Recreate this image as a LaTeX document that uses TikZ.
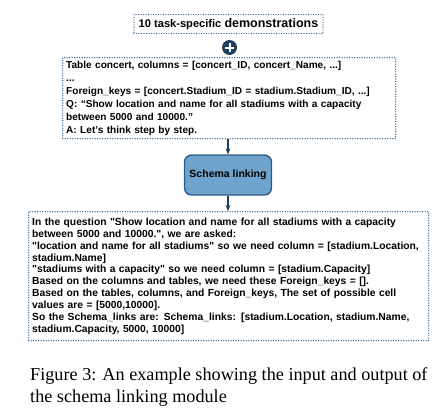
\documentclass[tikz,border=0pt]{standalone}
\usepackage{fontspec}
\setmainfont{Liberation Serif}
\newfontfamily\boxfont{Liberation Sans}
\usetikzlibrary{arrows.meta}
\definecolor{dotblue}{HTML}{2E5E8E}
\definecolor{navy}{HTML}{1F3F5F}
\definecolor{schemafill}{HTML}{6FA3CC}
\definecolor{schemaline}{HTML}{2C5A86}
\tikzset{
  dotbox/.style={draw=dotblue, line width=1.4pt, line cap=round, dash pattern=on 0pt off 2.5pt, inner sep=0pt},
  schemabox/.style={draw=schemaline, fill=schemafill, line width=1.3pt, rounded corners=7pt, minimum width=87pt, minimum height=40pt, inner sep=0pt, font=\boxfont\bfseries\fontsize{10.5}{12}\selectfont},
  bodytext/.style={font=\boxfont\bfseries\fontsize{10.1}{13}\selectfont, align=left},
  arr/.style={draw=navy, line width=1.2pt, -{Stealth[length=6pt,width=5pt]}},
}
\begin{document}
\begin{tikzpicture}[x=1pt,y=-1pt]
\useasboundingbox (0,0) rectangle (443,410);
\node[dotbox, minimum width=189pt, minimum height=19pt] (demo) at (228.5,24)
  {\boxfont\bfseries\fontsize{11.1}{12}\selectfont 10 task-specific {\fontsize{12.5}{12}\selectfont demonstrations}};
\node[circle, fill=navy, minimum size=15pt, inner sep=0pt] (plus) at (229.5,47.5) {};
\draw[white, line width=2pt] ([xshift=-4.5pt]plus.center) -- ([xshift=4.5pt]plus.center);
\draw[white, line width=2pt] ([yshift=-4.5pt]plus.center) -- ([yshift=4.5pt]plus.center);
\node[dotbox, bodytext, anchor=north west, text width=326pt, minimum width=333pt, minimum height=81pt, inner xsep=3.5pt] (prompt) at (62,57)
  {Table concert, columns = [concert\_ID, concert\_Name, ...]\\
   ...\\
   Foreign\_keys = [concert.Stadium\_ID = stadium.Stadium\_ID, ...]\\
   Q: “Show location and name for all stadiums with a capacity\\
   between 5000 and 10000.”\\
   A: Let’s think step by step.};
\node[schemabox] (schema) at (228,175) {Schema linking};
\node[dotbox, bodytext, font=\boxfont\bfseries\fontsize{10.3}{11.85}\selectfont, anchor=north west, text width=393pt, minimum width=400pt, minimum height=129pt, inner xsep=3.5pt] (out) at (28,211)
  {In the question "Show location and name for all stadiums with a capacity\\
   between 5000 and 10000.", we are asked:\\
   "location and name for all stadiums" so we need column = [stadium.Location,\\
   stadium.Name]\\
   "stadiums with a capacity" so we need column = [stadium.Capacity]\\
   Based on the columns and tables, we need these Foreign\_keys = [].\\
   Based on the tables, columns, and Foreign\_keys, The set of possible cell\\
   values are = [5000,10000].\\
   So the Schema\_links are: Schema\_links: [stadium.Location, stadium.Name,\\
   stadium.Capacity, 5000, 10000]};
\draw[arr] (prompt.south -| schema.north) -- (schema.north);
\draw[arr] (schema.south) -- (schema.south |- out.north);
\node[anchor=north west, align=left, inner sep=0pt, font=\fontsize{18.2}{22}\selectfont] (cap) at (30,367)
  {Figure 3: An example showing the input and output of\\
   the schema linking module};
\end{tikzpicture}
\end{document}
